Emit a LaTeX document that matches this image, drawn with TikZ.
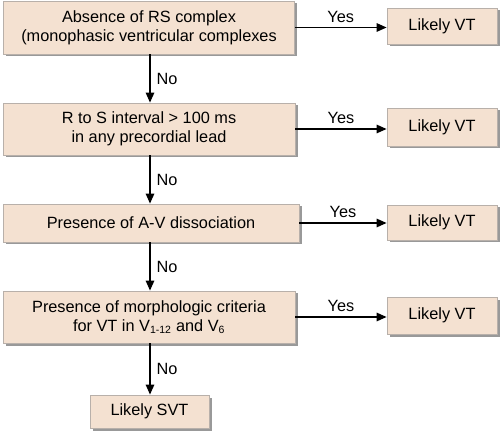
\documentclass[tikz,border=0pt]{standalone}
\usepackage{fontspec}
\setmainfont{Liberation Sans}
\usetikzlibrary{arrows.meta,shadows}
\definecolor{boxfill}{HTML}{F4E1D1}
\definecolor{boxline}{HTML}{B8B0AA}
\tikzset{
  flowbox/.style={draw=boxline, line width=0.8pt, fill=boxfill, align=center, inner sep=0pt,
    font=\fontsize{16.3}{19}\selectfont,
    drop shadow={shadow xshift=2.5pt, shadow yshift=-2.5pt, fill=black!40, opacity=1}},
  conn/.style={line width=1.3pt, -{Triangle[length=10pt,width=8.5pt]}},
  lbl/.style={font=\fontsize{16.3}{19}\selectfont, inner sep=0pt}
}
\begin{document}
\begin{tikzpicture}[x=1pt,y=-1pt]
\useasboundingbox (0,0) rectangle (500,435);
\node[flowbox, minimum width=291pt, minimum height=53pt] (b1) at (149,27.5) {Absence of RS complex\\(monophasic ventricular complexes};
\node[flowbox, minimum width=292pt, minimum height=52pt] (b2) at (149,129) {R to S interval > 100 ms\\in any precordial lead};
\node[flowbox, minimum width=296pt, minimum height=38pt] (b3) at (151,223) {Presence of A-V dissociation};
\node[flowbox, minimum width=292pt, minimum height=52pt] (b4) at (149,317) {Presence of morphologic criteria\\for VT in V\textsubscript{\fontsize{10.5}{11}\selectfont 1-12} and V\textsubscript{\fontsize{10.5}{11}\selectfont 6}};
\node[flowbox, minimum width=110pt, minimum height=36pt] (v1) at (442,26) {Likely VT};
\node[flowbox, minimum width=110pt, minimum height=38pt] (v2) at (442,127) {Likely VT};
\node[flowbox, minimum width=110pt, minimum height=35pt] (v3) at (442,222.5) {Likely VT};
\node[flowbox, minimum width=110pt, minimum height=37pt] (v4) at (442,315.5) {Likely VT};
\node[flowbox, minimum width=119pt, minimum height=33pt] (s) at (149.5,411.5) {Likely SVT};

\draw[conn] (b1.east) -- (b1.east -| v1.west) node[lbl, midway, above=4.5pt] (y1) {Yes};
\draw[conn] (b2.east) -- (b2.east -| v2.west) node[lbl, midway, above=4.5pt] (y2) {Yes};
\draw[conn] (b3.east) -- (b3.east -| v3.west) node[lbl, midway, above=4.5pt] (y3) {Yes};
\draw[conn] (b4.east) -- (b4.east -| v4.west) node[lbl, midway, above=4.5pt] (y4) {Yes};

\draw[conn] (b1.south -| 150,0) -- (b2.north -| 150,0) node[lbl, midway, right=6pt] (n1) {No};
\draw[conn] (b2.south -| 150,0) -- (b3.north -| 150,0) node[lbl, midway, right=6pt] (n2) {No};
\draw[conn] (b3.south -| 150,0) -- (b4.north -| 150,0) node[lbl, midway, right=6pt] (n3) {No};
\draw[conn] (b4.south -| 150,0) -- (s.north -| 150,0) node[lbl, midway, right=6pt] (n4) {No};
\end{tikzpicture}
\end{document}
